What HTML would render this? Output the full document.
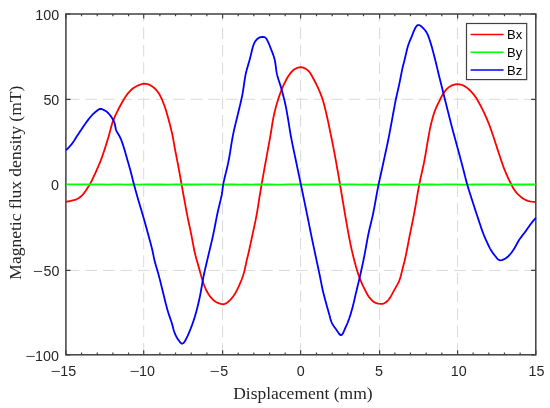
<!DOCTYPE html>
<html><head><meta charset="utf-8"><style>
html,body{margin:0;padding:0;background:#fff;}
svg{display:block;}
.tl{font-family:"Liberation Sans",Arial,sans-serif;font-size:14.3px;fill:#262626;}
.lg{font-family:"Liberation Sans",Arial,sans-serif;font-size:13px;fill:#000;}
.al{font-family:"Liberation Serif","Times New Roman",serif;font-size:17.5px;fill:#262626;}
</style></head><body>
<svg width="550" height="408" viewBox="0 0 550 408">
<rect width="550" height="408" fill="#fff"/>
<line x1="143.70" y1="354.8" x2="143.70" y2="14.0" stroke="#d9d9d9" stroke-width="1" stroke-dasharray="11.6 5.95"/>
<line x1="222.60" y1="354.8" x2="222.60" y2="14.0" stroke="#d9d9d9" stroke-width="1" stroke-dasharray="11.6 5.95"/>
<line x1="300.60" y1="354.8" x2="300.60" y2="14.0" stroke="#d9d9d9" stroke-width="1" stroke-dasharray="11.6 5.95"/>
<line x1="379.60" y1="354.8" x2="379.60" y2="14.0" stroke="#d9d9d9" stroke-width="1" stroke-dasharray="11.6 5.95"/>
<line x1="457.60" y1="354.8" x2="457.60" y2="14.0" stroke="#d9d9d9" stroke-width="1" stroke-dasharray="11.6 5.95"/>
<line x1="535.8" y1="99.30" x2="65.9" y2="99.30" stroke="#d9d9d9" stroke-width="1" stroke-dasharray="11.6 5.95"/>
<line x1="535.8" y1="184.50" x2="65.9" y2="184.50" stroke="#d9d9d9" stroke-width="1" stroke-dasharray="11.6 5.95"/>
<line x1="535.8" y1="270.40" x2="65.9" y2="270.40" stroke="#d9d9d9" stroke-width="1" stroke-dasharray="11.6 5.95"/>
<path d="M65.90,354.8v-4.6M65.90,14.0v4.6M81.56,354.8v-2.2M81.56,14.0v2.2M97.23,354.8v-2.2M97.23,14.0v2.2M112.89,354.8v-2.2M112.89,14.0v2.2M128.55,354.8v-2.2M128.55,14.0v2.2M143.70,354.8v-4.6M143.70,14.0v4.6M159.88,354.8v-2.2M159.88,14.0v2.2M175.54,354.8v-2.2M175.54,14.0v2.2M191.21,354.8v-2.2M191.21,14.0v2.2M206.87,354.8v-2.2M206.87,14.0v2.2M222.60,354.8v-4.6M222.60,14.0v4.6M238.20,354.8v-2.2M238.20,14.0v2.2M253.86,354.8v-2.2M253.86,14.0v2.2M269.52,354.8v-2.2M269.52,14.0v2.2M285.19,354.8v-2.2M285.19,14.0v2.2M300.60,354.8v-4.6M300.60,14.0v4.6M316.51,354.8v-2.2M316.51,14.0v2.2M332.18,354.8v-2.2M332.18,14.0v2.2M347.84,354.8v-2.2M347.84,14.0v2.2M363.50,354.8v-2.2M363.50,14.0v2.2M379.60,354.8v-4.6M379.60,14.0v4.6M394.83,354.8v-2.2M394.83,14.0v2.2M410.49,354.8v-2.2M410.49,14.0v2.2M426.16,354.8v-2.2M426.16,14.0v2.2M441.82,354.8v-2.2M441.82,14.0v2.2M457.60,354.8v-4.6M457.60,14.0v4.6M473.15,354.8v-2.2M473.15,14.0v2.2M488.81,354.8v-2.2M488.81,14.0v2.2M504.47,354.8v-2.2M504.47,14.0v2.2M520.14,354.8v-2.2M520.14,14.0v2.2M535.80,354.8v-4.6M535.80,14.0v4.6M65.9,354.80h4.6M535.8,354.80h-4.6M65.9,270.40h4.6M535.8,270.40h-4.6M65.9,184.50h4.6M535.8,184.50h-4.6M65.9,99.30h4.6M535.8,99.30h-4.6M65.9,14.00h4.6M535.8,14.00h-4.6" stroke="#404040" stroke-width="1.2" fill="none"/>
<rect x="65.9" y="14.0" width="469.9" height="340.8" fill="none" stroke="#404040" stroke-width="1.5"/>
<polyline points="66.00,201.80 67.96,201.41 69.92,201.02 71.88,200.59 73.82,200.12 75.73,199.55 77.56,198.76 79.27,197.73 80.86,196.52 82.31,195.15 83.65,193.66 84.84,192.06 85.93,190.39 87.01,188.70 88.13,187.05 89.22,185.37 90.22,183.64 91.14,181.87 92.03,180.07 92.89,178.27 93.75,176.46 94.60,174.65 95.43,172.83 96.25,171.01 97.06,169.18 97.87,167.35 98.66,165.51 99.44,163.67 100.20,161.82 100.92,159.96 101.62,158.08 102.30,156.20 102.96,154.31 103.60,152.42 104.23,150.52 104.85,148.62 105.46,146.71 106.07,144.81 106.66,142.90 107.25,140.99 107.83,139.07 108.41,137.16 108.97,135.24 109.50,133.31 110.01,131.37 110.51,129.44 111.02,127.50 111.55,125.57 112.13,123.66 112.78,121.77 113.48,119.90 114.24,118.05 115.03,116.21 115.87,114.39 116.72,112.58 117.60,110.79 118.50,109.00 119.42,107.23 120.37,105.46 121.34,103.72 122.34,101.99 123.36,100.27 124.40,98.56 125.46,96.86 126.57,95.20 127.76,93.59 129.04,92.06 130.42,90.61 131.89,89.26 133.46,88.02 135.13,86.93 136.90,86.00 138.73,85.21 140.60,84.51 142.51,83.91 144.46,83.69 146.43,83.94 148.36,84.46 150.21,85.20 151.94,86.18 153.54,87.38 155.03,88.71 156.41,90.16 157.67,91.70 158.82,93.34 159.84,95.06 160.75,96.84 161.59,98.65 162.39,100.49 163.14,102.34 163.85,104.21 164.53,106.09 165.18,107.98 165.80,109.88 166.40,111.79 166.98,113.71 167.53,115.63 168.06,117.56 168.57,119.49 169.09,121.42 169.60,123.36 170.10,125.29 170.60,127.23 171.08,129.17 171.54,131.12 171.99,133.07 172.41,135.02 172.80,136.98 173.17,138.95 173.52,140.92 173.86,142.89 174.21,144.86 174.56,146.83 174.92,148.80 175.29,150.76 175.67,152.72 176.06,154.69 176.44,156.65 176.83,158.61 177.21,160.58 177.59,162.54 177.97,164.50 178.35,166.47 178.72,168.43 179.08,170.40 179.43,172.37 179.79,174.34 180.14,176.31 180.49,178.28 180.83,180.25 181.18,182.22 181.53,184.18 181.89,186.15 182.24,188.12 182.59,190.09 182.95,192.06 183.30,194.03 183.66,196.00 184.02,197.96 184.38,199.93 184.74,201.90 185.10,203.87 185.46,205.83 185.82,207.80 186.19,209.77 186.56,211.73 186.93,213.70 187.32,215.66 187.71,217.62 188.11,219.58 188.52,221.54 188.94,223.49 189.35,225.45 189.77,227.41 190.19,229.36 190.61,231.32 191.01,233.28 191.40,235.24 191.78,237.20 192.16,239.17 192.52,241.13 192.89,243.10 193.26,245.07 193.64,247.03 194.02,248.99 194.43,250.95 194.86,252.90 195.32,254.85 195.81,256.79 196.34,258.72 196.90,260.64 197.46,262.56 198.02,264.48 198.56,266.40 199.09,268.33 199.61,270.26 200.14,272.19 200.67,274.12 201.21,276.05 201.78,277.96 202.38,279.87 202.99,281.78 203.61,283.68 204.28,285.56 205.00,287.43 205.80,289.26 206.69,291.05 207.67,292.79 208.72,294.49 209.87,296.13 211.11,297.70 212.45,299.17 213.93,300.52 215.55,301.68 217.31,302.61 219.17,303.35 221.07,303.96 223.02,304.26 224.93,303.90 226.67,302.96 228.26,301.75 229.74,300.42 231.14,298.98 232.41,297.44 233.59,295.83 234.69,294.16 235.72,292.45 236.67,290.69 237.56,288.90 238.41,287.08 239.23,285.26 240.04,283.43 240.82,281.59 241.56,279.74 242.26,277.86 242.91,275.97 243.52,274.06 244.07,272.14 244.59,270.21 245.05,268.26 245.47,266.31 245.87,264.35 246.27,262.39 246.69,260.43 247.15,258.49 247.66,256.55 248.15,254.61 248.60,252.67 249.04,250.72 249.48,248.76 249.90,246.81 250.32,244.85 250.74,242.90 251.16,240.94 251.58,238.99 251.99,237.03 252.41,235.07 252.83,233.12 253.25,231.16 253.67,229.21 254.10,227.25 254.53,225.30 254.94,223.34 255.35,221.38 255.75,219.42 256.14,217.46 256.50,215.50 256.86,213.53 257.20,211.56 257.53,209.58 257.85,207.61 258.16,205.63 258.47,203.66 258.78,201.68 259.09,199.71 259.40,197.73 259.72,195.75 260.04,193.78 260.37,191.81 260.70,189.84 261.03,187.86 261.37,185.89 261.71,183.92 262.05,181.95 262.40,179.98 262.75,178.01 263.10,176.04 263.45,174.07 263.80,172.10 264.16,170.14 264.51,168.17 264.87,166.20 265.23,164.23 265.58,162.26 265.94,160.29 266.30,158.33 266.65,156.36 267.01,154.39 267.37,152.42 267.73,150.46 268.10,148.49 268.46,146.52 268.81,144.55 269.17,142.59 269.53,140.62 269.88,138.65 270.23,136.68 270.57,134.71 270.91,132.74 271.23,130.76 271.53,128.79 271.83,126.81 272.13,124.83 272.45,122.86 272.78,120.88 273.15,118.92 273.54,116.96 273.96,115.00 274.40,113.05 274.86,111.10 275.34,109.16 275.84,107.23 276.37,105.30 276.91,103.37 277.49,101.46 278.08,99.55 278.70,97.65 279.35,95.75 280.02,93.87 280.71,91.99 281.44,90.13 282.20,88.28 282.99,86.44 283.81,84.62 284.68,82.82 285.58,81.03 286.52,79.27 287.50,77.52 288.54,75.82 289.69,74.18 290.92,72.61 292.25,71.12 293.73,69.78 295.41,68.72 297.24,67.94 299.17,67.43 301.15,67.25 303.10,67.55 304.92,68.32 306.60,69.39 308.13,70.67 309.49,72.13 310.66,73.75 311.68,75.46 312.64,77.22 313.59,78.98 314.54,80.74 315.46,82.51 316.36,84.30 317.22,86.11 318.05,87.93 318.86,89.76 319.65,91.59 320.41,93.44 321.14,95.31 321.83,97.18 322.48,99.07 323.09,100.98 323.65,102.90 324.18,104.83 324.68,106.76 325.16,108.70 325.62,110.65 326.08,112.60 326.52,114.55 326.97,116.50 327.41,118.45 327.85,120.40 328.27,122.36 328.68,124.31 329.08,126.27 329.48,128.23 329.87,130.19 330.28,132.15 330.68,134.11 331.08,136.07 331.49,138.03 331.89,139.99 332.29,141.95 332.68,143.91 333.07,145.87 333.46,147.83 333.84,149.80 334.21,151.76 334.58,153.73 334.94,155.70 335.30,157.66 335.66,159.63 336.01,161.60 336.37,163.57 336.72,165.54 337.07,167.51 337.42,169.48 337.77,171.44 338.12,173.41 338.47,175.38 338.81,177.35 339.15,179.33 339.49,181.30 339.82,183.27 340.16,185.24 340.49,187.21 340.82,189.19 341.15,191.16 341.48,193.13 341.80,195.11 342.13,197.08 342.46,199.05 342.79,201.02 343.12,203.00 343.46,204.97 343.79,206.94 344.13,208.91 344.46,210.88 344.80,212.86 345.13,214.83 345.47,216.80 345.80,218.77 346.14,220.74 346.48,222.71 346.82,224.68 347.17,226.65 347.52,228.62 347.87,230.59 348.23,232.56 348.60,234.53 348.97,236.49 349.35,238.45 349.74,240.42 350.13,242.38 350.53,244.34 350.94,246.30 351.37,248.25 351.80,250.20 352.25,252.15 352.71,254.10 353.19,256.04 353.67,257.98 354.16,259.92 354.67,261.85 355.20,263.78 355.73,265.71 356.28,267.64 356.83,269.56 357.41,271.47 358.01,273.38 358.64,275.28 359.31,277.16 360.03,279.03 360.78,280.88 361.56,282.72 362.37,284.55 363.21,286.37 364.09,288.17 364.99,289.95 365.92,291.72 366.86,293.49 367.83,295.23 368.95,296.88 370.21,298.44 371.55,299.92 373.00,301.28 374.63,302.43 376.44,303.23 378.37,303.72 380.35,303.95 382.34,303.87 384.22,303.31 385.92,302.29 387.43,300.98 388.75,299.49 389.91,297.87 390.95,296.16 391.93,294.42 392.87,292.65 393.82,290.89 394.79,289.14 395.79,287.41 396.78,285.67 397.74,283.92 398.63,282.13 399.41,280.29 400.08,278.41 400.65,276.49 401.15,274.55 401.62,272.61 402.09,270.66 402.58,268.73 403.08,266.79 403.59,264.85 404.08,262.92 404.56,260.97 405.02,259.03 405.45,257.07 405.87,255.12 406.28,253.16 406.67,251.20 407.06,249.24 407.44,247.27 407.82,245.31 408.20,243.35 408.57,241.38 408.95,239.42 409.34,237.45 409.72,235.49 410.12,233.53 410.52,231.57 410.92,229.61 411.32,227.65 411.73,225.69 412.13,223.73 412.53,221.78 412.92,219.81 413.31,217.85 413.70,215.89 414.07,213.92 414.44,211.96 414.79,209.99 415.14,208.02 415.49,206.05 415.83,204.08 416.17,202.11 416.50,200.14 416.84,198.16 417.17,196.19 417.51,194.22 417.86,192.25 418.21,190.28 418.56,188.31 418.93,186.35 419.31,184.38 419.70,182.42 420.11,180.46 420.53,178.51 420.95,176.55 421.38,174.60 421.81,172.65 422.25,170.70 422.69,168.74 423.12,166.79 423.54,164.84 423.95,162.88 424.35,160.92 424.72,158.95 425.08,156.98 425.41,155.01 425.74,153.04 426.07,151.07 426.39,149.09 426.71,147.12 427.04,145.15 427.37,143.17 427.71,141.20 428.06,139.23 428.41,137.26 428.76,135.29 429.12,133.33 429.49,131.36 429.87,129.40 430.28,127.44 430.72,125.49 431.18,123.54 431.66,121.60 432.15,119.66 432.68,117.73 433.23,115.81 433.82,113.90 434.46,112.01 435.16,110.13 435.91,108.28 436.72,106.45 437.56,104.63 438.43,102.84 439.33,101.05 440.22,99.26 441.12,97.47 442.05,95.70 443.03,93.96 444.12,92.28 445.32,90.69 446.65,89.19 448.11,87.83 449.71,86.65 451.45,85.68 453.30,84.91 455.21,84.38 457.19,84.18 459.18,84.33 461.13,84.74 463.01,85.39 464.79,86.29 466.45,87.40 468.02,88.64 469.52,89.96 470.95,91.36 472.30,92.83 473.58,94.36 474.80,95.95 475.94,97.59 477.00,99.29 478.01,101.01 478.99,102.76 479.95,104.51 480.88,106.28 481.79,108.06 482.68,109.85 483.55,111.66 484.40,113.47 485.23,115.28 486.06,117.11 486.86,118.94 487.65,120.78 488.41,122.63 489.14,124.49 489.85,126.36 490.53,128.24 491.19,130.13 491.84,132.02 492.47,133.92 493.11,135.81 493.74,137.71 494.37,139.61 495.00,141.51 495.62,143.41 496.24,145.31 496.86,147.21 497.47,149.12 498.09,151.02 498.71,152.92 499.34,154.82 499.97,156.72 500.60,158.62 501.22,160.51 501.86,162.41 502.51,164.30 503.18,166.19 503.89,168.06 504.62,169.92 505.38,171.77 506.16,173.61 506.97,175.44 507.79,177.26 508.63,179.08 509.49,180.88 510.38,182.68 511.29,184.46 512.23,186.22 513.20,187.97 514.24,189.68 515.39,191.31 516.67,192.85 518.05,194.29 519.52,195.65 521.04,196.95 522.62,198.17 524.29,199.27 526.05,200.20 527.91,200.93 529.84,201.41 531.82,201.69 533.81,201.89 535.80,202.10 535.80,202.10" fill="none" stroke="#ff0000" stroke-width="1.8" stroke-linejoin="round"/>
<polyline points="65.90,184.39 71.90,184.46 77.90,184.42 83.90,184.47 89.90,184.48 95.90,184.35 101.90,184.33 107.90,184.53 113.90,184.39 119.90,184.39 125.90,184.57 131.90,184.44 137.90,184.53 143.90,184.44 149.90,184.48 155.90,184.37 161.90,184.48 167.90,184.54 173.90,184.46 179.90,184.51 185.90,184.49 191.90,184.35 197.90,184.51 203.90,184.47 209.90,184.40 215.90,184.34 221.90,184.54 227.90,184.44 233.90,184.50 239.90,184.54 245.90,184.50 251.90,184.55 257.90,184.42 263.90,184.52 269.90,184.44 275.90,184.55 281.90,184.54 287.90,184.35 293.90,184.36 299.90,184.38 305.90,184.56 311.90,184.43 317.90,184.48 323.90,184.40 329.90,184.45 335.90,184.42 341.90,184.41 347.90,184.47 353.90,184.47 359.90,184.55 365.90,184.49 371.90,184.55 377.90,184.54 383.90,184.57 389.90,184.49 395.90,184.37 401.90,184.54 407.90,184.56 413.90,184.55 419.90,184.47 425.90,184.50 431.90,184.38 437.90,184.53 443.90,184.47 449.90,184.40 455.90,184.35 461.90,184.53 467.90,184.57 473.90,184.35 479.90,184.52 485.90,184.43 491.90,184.37 497.90,184.40 503.90,184.51 509.90,184.54 515.90,184.34 521.90,184.48 527.90,184.34 533.90,184.50 535.80,184.45" fill="none" stroke="#00ff00" stroke-width="1.8" stroke-linejoin="round"/>
<polyline points="66.00,150.20 67.41,148.78 68.82,147.36 70.19,145.91 71.49,144.39 72.69,142.79 73.81,141.14 74.89,139.45 75.94,137.75 77.01,136.06 78.10,134.39 79.20,132.72 80.31,131.05 81.42,129.38 82.54,127.73 83.67,126.08 84.80,124.43 85.95,122.79 87.12,121.17 88.33,119.58 89.58,118.01 90.86,116.48 92.18,114.98 93.59,113.56 95.09,112.25 96.67,111.02 98.23,109.78 99.90,108.84 101.73,109.02 103.52,109.86 105.30,110.75 106.95,111.86 108.39,113.23 109.70,114.75 110.90,116.34 112.01,118.01 113.03,119.73 113.93,121.51 114.66,123.36 115.13,125.30 115.43,127.27 115.83,129.23 116.53,131.09 117.47,132.84 118.52,134.55 119.53,136.27 120.43,138.06 121.20,139.90 121.90,141.77 122.55,143.66 123.17,145.57 123.78,147.47 124.38,149.38 124.95,151.30 125.50,153.22 126.05,155.14 126.59,157.07 127.14,158.99 127.69,160.91 128.25,162.83 128.80,164.76 129.35,166.68 129.89,168.61 130.42,170.53 130.93,172.47 131.43,174.40 131.92,176.34 132.41,178.28 132.90,180.22 133.39,182.16 133.90,184.09 134.41,186.03 134.93,187.96 135.46,189.89 135.99,191.81 136.53,193.74 137.07,195.67 137.61,197.59 138.16,199.51 138.72,201.44 139.28,203.35 139.85,205.27 140.43,207.19 141.00,209.10 141.58,211.02 142.15,212.93 142.72,214.85 143.28,216.77 143.84,218.69 144.39,220.62 144.93,222.54 145.46,224.47 146.00,226.40 146.53,228.32 147.06,230.25 147.58,232.18 148.11,234.11 148.63,236.04 149.16,237.97 149.68,239.90 150.21,241.83 150.73,243.76 151.24,245.70 151.74,247.63 152.21,249.58 152.65,251.53 153.05,253.49 153.43,255.45 153.83,257.41 154.26,259.36 154.74,261.30 155.26,263.23 155.81,265.16 156.37,267.08 156.94,268.99 157.50,270.91 158.06,272.84 158.59,274.76 159.11,276.69 159.61,278.63 160.10,280.57 160.59,282.51 161.07,284.45 161.54,286.39 162.02,288.34 162.50,290.28 162.98,292.22 163.46,294.16 163.94,296.10 164.42,298.04 164.89,299.99 165.36,301.93 165.85,303.87 166.34,305.81 166.85,307.74 167.39,309.67 167.95,311.59 168.55,313.50 169.18,315.39 169.83,317.29 170.49,319.17 171.14,321.07 171.77,322.97 172.34,324.88 172.85,326.81 173.33,328.75 173.88,330.68 174.54,332.57 175.28,334.42 176.13,336.23 177.11,337.97 178.20,339.65 179.37,341.27 180.59,342.83 182.05,343.76 183.55,343.03 184.74,341.46 185.73,339.72 186.62,337.93 187.49,336.13 188.32,334.31 189.12,332.48 189.90,330.64 190.64,328.78 191.36,326.92 192.06,325.04 192.73,323.16 193.38,321.27 194.01,319.37 194.61,317.46 195.19,315.55 195.75,313.62 196.28,311.70 196.80,309.77 197.30,307.83 197.78,305.89 198.24,303.94 198.70,301.99 199.14,300.04 199.57,298.09 199.97,296.13 200.36,294.17 200.73,292.20 201.08,290.23 201.42,288.26 201.75,286.29 202.09,284.32 202.43,282.35 202.78,280.38 203.15,278.42 203.54,276.45 203.94,274.49 204.37,272.54 204.80,270.59 205.24,268.64 205.70,266.69 206.15,264.74 206.61,262.80 207.08,260.85 207.54,258.90 208.00,256.96 208.46,255.01 208.92,253.07 209.38,251.12 209.84,249.17 210.31,247.23 210.77,245.28 211.24,243.34 211.70,241.39 212.15,239.44 212.59,237.49 213.02,235.54 213.44,233.58 213.84,231.62 214.23,229.66 214.62,227.70 215.00,225.74 215.38,223.77 215.75,221.81 216.13,219.85 216.52,217.88 216.92,215.92 217.32,213.96 217.75,212.01 218.19,210.06 218.65,208.11 219.11,206.17 219.59,204.22 220.06,202.28 220.52,200.34 220.98,198.39 221.40,196.43 221.80,194.47 222.13,192.50 222.39,190.52 222.61,188.53 222.86,186.55 223.17,184.57 223.55,182.61 223.97,180.65 224.42,178.71 224.89,176.76 225.37,174.82 225.85,172.88 226.33,170.94 226.80,168.99 227.26,167.05 227.70,165.10 228.13,163.14 228.53,161.18 228.90,159.22 229.26,157.25 229.60,155.28 229.93,153.31 230.26,151.33 230.57,149.36 230.89,147.38 231.20,145.41 231.52,143.43 231.85,141.46 232.18,139.49 232.54,137.52 232.91,135.56 233.29,133.59 233.71,131.64 234.14,129.68 234.59,127.74 235.05,125.79 235.52,123.85 236.00,121.90 236.48,119.96 236.96,118.02 237.43,116.08 237.90,114.13 238.36,112.19 238.82,110.24 239.29,108.30 239.76,106.35 240.23,104.41 240.69,102.46 241.14,100.51 241.57,98.56 241.99,96.60 242.38,94.64 242.74,92.68 243.07,90.70 243.37,88.73 243.66,86.75 243.94,84.77 244.22,82.79 244.51,80.81 244.82,78.83 245.15,76.86 245.53,74.90 245.95,72.94 246.43,71.00 246.94,69.07 247.49,67.14 248.06,65.23 248.63,63.31 249.19,61.39 249.73,59.46 250.23,57.53 250.70,55.58 251.17,53.64 251.63,51.69 252.11,49.75 252.62,47.82 253.19,45.90 253.88,44.03 254.72,42.22 255.78,40.53 257.12,39.07 258.74,37.92 260.55,37.12 262.49,36.77 264.41,37.03 265.96,38.12 267.02,39.78 267.92,41.57 268.74,43.39 269.51,45.24 270.25,47.10 270.97,48.96 271.70,50.83 272.42,52.69 273.12,54.56 273.77,56.45 274.35,58.37 274.83,60.31 275.21,62.27 275.50,64.25 275.75,66.23 275.98,68.22 276.24,70.20 276.56,72.18 276.96,74.13 277.44,76.07 278.00,78.00 278.59,79.90 279.22,81.80 279.85,83.70 280.46,85.61 281.05,87.52 281.60,89.44 282.13,91.37 282.65,93.30 283.16,95.23 283.66,97.17 284.14,99.11 284.61,101.06 285.06,103.01 285.49,104.96 285.90,106.92 286.28,108.88 286.66,110.84 287.01,112.81 287.35,114.78 287.69,116.75 288.02,118.73 288.34,120.70 288.66,122.67 288.98,124.65 289.29,126.62 289.61,128.60 289.93,130.57 290.26,132.55 290.59,134.52 290.94,136.49 291.30,138.45 291.69,140.42 292.08,142.38 292.48,144.34 292.88,146.30 293.29,148.25 293.70,150.21 294.11,152.17 294.52,154.13 294.93,156.08 295.34,158.04 295.75,160.00 296.16,161.96 296.57,163.92 296.98,165.87 297.39,167.83 297.80,169.79 298.21,171.75 298.62,173.70 299.03,175.66 299.44,177.62 299.85,179.58 300.26,181.53 300.67,183.49 301.07,185.45 301.48,187.41 301.89,189.36 302.30,191.32 302.71,193.28 303.11,195.24 303.52,197.20 303.93,199.15 304.33,201.11 304.74,203.07 305.15,205.03 305.55,206.99 305.96,208.95 306.36,210.91 306.76,212.86 307.16,214.82 307.56,216.78 307.95,218.75 308.34,220.71 308.73,222.67 309.12,224.63 309.51,226.59 309.90,228.55 310.29,230.51 310.69,232.48 311.09,234.43 311.49,236.39 311.90,238.35 312.31,240.31 312.72,242.27 313.13,244.23 313.54,246.18 313.95,248.14 314.36,250.10 314.78,252.05 315.19,254.01 315.61,255.97 316.03,257.92 316.45,259.88 316.87,261.83 317.29,263.79 317.71,265.74 318.13,267.70 318.55,269.65 318.96,271.61 319.37,273.57 319.77,275.53 320.16,277.49 320.55,279.45 320.93,281.42 321.31,283.38 321.70,285.34 322.10,287.30 322.53,289.25 322.97,291.20 323.44,293.15 323.93,295.09 324.43,297.02 324.95,298.95 325.47,300.89 326.00,302.82 326.52,304.74 327.05,306.67 327.59,308.60 328.14,310.52 328.69,312.44 329.23,314.37 329.75,316.30 330.25,318.24 330.81,320.16 331.48,322.04 332.33,323.85 333.35,325.56 334.51,327.19 335.71,328.79 336.86,330.42 337.94,332.11 339.05,333.76 340.40,335.02 341.91,334.76 343.01,333.22 343.84,331.40 344.62,329.55 345.43,327.73 346.26,325.91 347.06,324.08 347.82,322.23 348.54,320.36 349.22,318.48 349.86,316.58 350.46,314.68 351.04,312.76 351.60,310.84 352.14,308.92 352.66,306.99 353.15,305.05 353.63,303.11 354.09,301.16 354.54,299.21 354.98,297.26 355.43,295.31 355.88,293.36 356.34,291.42 356.81,289.47 357.28,287.53 357.76,285.59 358.23,283.64 358.70,281.70 359.17,279.75 359.62,277.81 360.07,275.86 360.51,273.91 360.94,271.95 361.37,270.00 361.80,268.05 362.22,266.09 362.64,264.14 363.05,262.18 363.46,260.22 363.86,258.26 364.26,256.30 364.64,254.34 365.01,252.37 365.37,250.41 365.73,248.44 366.08,246.47 366.43,244.50 366.78,242.53 367.13,240.56 367.50,238.60 367.88,236.63 368.27,234.67 368.68,232.71 369.11,230.76 369.56,228.81 370.02,226.87 370.49,224.92 370.97,222.98 371.43,221.03 371.89,219.09 372.34,217.14 372.77,215.19 373.19,213.23 373.58,211.27 373.97,209.31 374.34,207.34 374.71,205.37 375.07,203.41 375.42,201.44 375.78,199.47 376.13,197.50 376.48,195.53 376.84,193.57 377.20,191.60 377.56,189.63 377.94,187.67 378.33,185.70 378.73,183.75 379.15,181.79 379.59,179.84 380.03,177.89 380.47,175.94 380.90,173.98 381.33,172.03 381.76,170.08 382.18,168.12 382.60,166.17 383.03,164.21 383.45,162.26 383.87,160.30 384.29,158.35 384.72,156.39 385.14,154.44 385.57,152.49 385.99,150.53 386.41,148.58 386.83,146.62 387.25,144.66 387.66,142.71 388.06,140.75 388.46,138.79 388.85,136.83 389.23,134.86 389.60,132.90 389.97,130.93 390.34,128.97 390.70,127.00 391.07,125.03 391.43,123.07 391.80,121.10 392.16,119.13 392.52,117.17 392.89,115.20 393.24,113.23 393.60,111.26 393.96,109.30 394.33,107.33 394.69,105.36 395.07,103.40 395.45,101.44 395.85,99.48 396.26,97.52 396.69,95.57 397.13,93.61 397.57,91.66 398.02,89.71 398.46,87.76 398.90,85.81 399.32,83.86 399.73,81.90 400.12,79.94 400.50,77.98 400.88,76.01 401.26,74.05 401.65,72.09 402.05,70.13 402.48,68.17 402.94,66.23 403.44,64.29 403.94,62.35 404.44,60.42 404.92,58.48 405.37,56.53 405.82,54.58 406.27,52.63 406.73,50.68 407.21,48.74 407.74,46.81 408.32,44.90 408.99,43.02 409.72,41.16 410.51,39.32 411.31,37.48 412.07,35.64 412.78,33.77 413.48,31.89 414.25,30.05 415.15,28.27 416.17,26.55 417.48,25.18 419.19,25.03 420.84,26.04 422.35,27.35 423.77,28.75 425.08,30.26 426.24,31.88 427.22,33.62 428.04,35.44 428.76,37.31 429.41,39.20 430.03,41.10 430.65,43.00 431.23,44.92 431.78,46.84 432.31,48.77 432.82,50.70 433.33,52.63 433.83,54.57 434.34,56.50 434.84,58.44 435.32,60.38 435.80,62.32 436.28,64.27 436.75,66.21 437.22,68.15 437.68,70.10 438.13,72.05 438.60,73.99 439.08,75.93 439.57,77.87 440.05,79.81 440.53,81.76 441.01,83.70 441.50,85.64 441.98,87.58 442.46,89.52 442.94,91.46 443.43,93.40 443.91,95.34 444.39,97.28 444.88,99.22 445.37,101.16 445.85,103.10 446.34,105.04 446.82,106.98 447.31,108.92 447.80,110.86 448.29,112.80 448.78,114.74 449.27,116.68 449.76,118.62 450.25,120.56 450.75,122.49 451.25,124.43 451.75,126.37 452.25,128.30 452.76,130.24 453.28,132.17 453.80,134.10 454.32,136.03 454.85,137.96 455.37,139.89 455.90,141.82 456.43,143.75 456.96,145.68 457.48,147.61 458.01,149.54 458.53,151.47 459.06,153.40 459.58,155.33 460.09,157.26 460.61,159.19 461.12,161.13 461.64,163.06 462.15,164.99 462.66,166.93 463.16,168.86 463.66,170.80 464.15,172.74 464.63,174.68 465.12,176.62 465.61,178.56 466.11,180.49 466.64,182.42 467.18,184.35 467.74,186.27 468.31,188.18 468.90,190.10 469.50,192.00 470.10,193.91 470.71,195.82 471.32,197.72 471.93,199.63 472.55,201.53 473.16,203.43 473.78,205.33 474.39,207.24 475.01,209.14 475.63,211.04 476.25,212.94 476.88,214.84 477.51,216.74 478.14,218.64 478.78,220.53 479.41,222.43 480.03,224.33 480.66,226.23 481.30,228.12 481.95,230.02 482.62,231.90 483.33,233.77 484.07,235.63 484.85,237.47 485.66,239.30 486.47,241.12 487.31,242.94 488.18,244.74 489.05,246.54 489.94,248.33 490.91,250.08 491.99,251.77 493.15,253.39 494.37,254.98 495.62,256.54 496.85,258.11 498.20,259.55 499.91,260.31 501.83,260.09 503.69,259.38 505.46,258.45 507.09,257.31 508.58,255.98 509.93,254.52 511.18,252.96 512.37,251.35 513.51,249.71 514.59,248.03 515.60,246.30 516.54,244.53 517.49,242.77 518.48,241.04 519.56,239.35 520.70,237.71 521.90,236.11 523.12,234.52 524.34,232.94 525.54,231.34 526.71,229.72 527.87,228.09 529.02,226.46 530.18,224.83 531.37,223.22 532.60,221.64 533.87,220.10 535.16,218.57 535.80,217.80" fill="none" stroke="#0000ff" stroke-width="1.8" stroke-linejoin="round"/>
<rect x="466.5" y="23.5" width="60.2" height="56.1" fill="#fff" stroke="#404040" stroke-width="1.2"/>
<line x1="470.6" y1="34.6" x2="503.6" y2="34.6" stroke="#ff0000" stroke-width="1.5"/>
<text x="507" y="39.2" class="lg">Bx</text>
<line x1="470.6" y1="52.2" x2="503.6" y2="52.2" stroke="#00ff00" stroke-width="1.5"/>
<text x="507" y="56.8" class="lg">By</text>
<line x1="470.6" y1="69.9" x2="503.6" y2="69.9" stroke="#0000ff" stroke-width="1.5"/>
<text x="507" y="74.5" class="lg">Bz</text>
<text x="50.48" y="375.8" class="tl" fill="#444" style="fill:#444" textLength="9.94" lengthAdjust="spacingAndGlyphs">−</text>
<text x="68.16" y="375.8" class="tl" text-anchor="middle">15</text>
<text x="129.43" y="375.8" class="tl" fill="#444" style="fill:#444" textLength="9.94" lengthAdjust="spacingAndGlyphs">−</text>
<text x="147.03" y="375.8" class="tl" text-anchor="middle">10</text>
<text x="209.58" y="375.8" class="tl" fill="#444" style="fill:#444" textLength="9.94" lengthAdjust="spacingAndGlyphs">−</text>
<text x="224.21" y="375.8" class="tl" text-anchor="middle">5</text>
<text x="300.65" y="375.8" class="tl" text-anchor="middle">0</text>
<text x="378.91" y="375.8" class="tl" text-anchor="middle">5</text>
<text x="458.68" y="375.8" class="tl" text-anchor="middle">10</text>
<text x="536.51" y="375.8" class="tl" text-anchor="middle">15</text>
<text x="47.18" y="19.7" class="tl" text-anchor="middle">100</text>
<text x="51.34" y="105.2" class="tl" text-anchor="middle">50</text>
<text x="55.05" y="190.3" class="tl" text-anchor="middle">0</text>
<text x="32.78" y="275.9" class="tl" fill="#444" style="fill:#444" textLength="9.94" lengthAdjust="spacingAndGlyphs">−</text>
<text x="51.54" y="275.9" class="tl" text-anchor="middle">50</text>
<text x="25.28" y="361.2" class="tl" fill="#444" style="fill:#444" textLength="9.94" lengthAdjust="spacingAndGlyphs">−</text>
<text x="47.03" y="361.2" class="tl" text-anchor="middle">100</text>
<text x="302.9" y="399" class="al" text-anchor="middle">Displacement (mm)</text>
<text transform="translate(21,182.7) rotate(-90)" class="al" text-anchor="middle">Magnetic flux density (mT)</text>
</svg>
</body></html>
